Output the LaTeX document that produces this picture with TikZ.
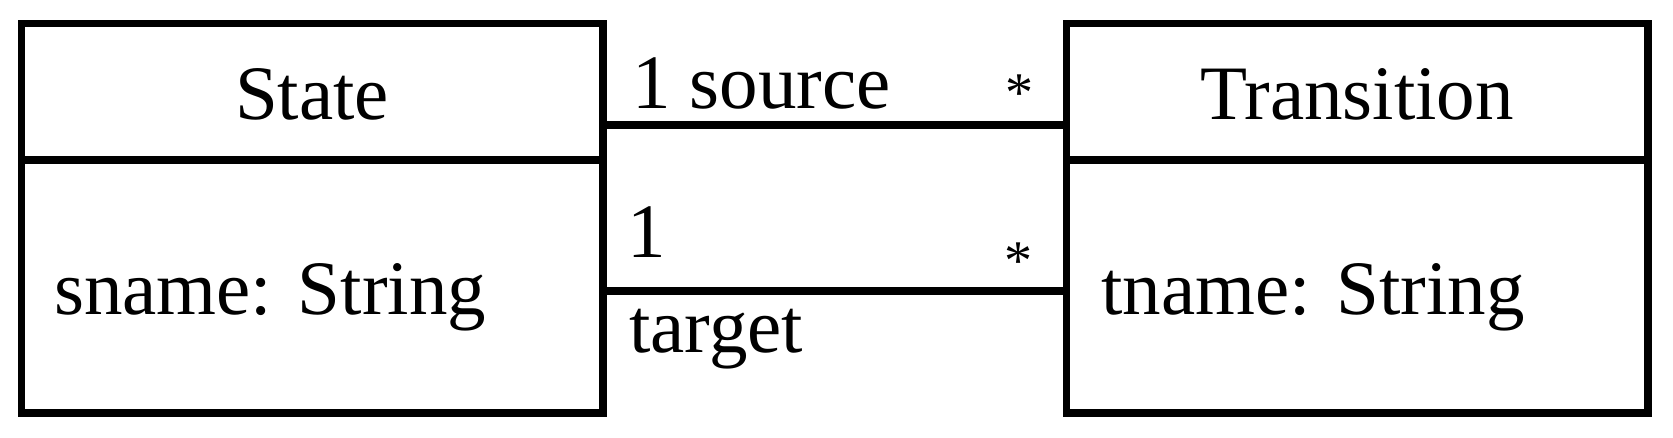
\documentclass[tikz,border=0pt]{standalone}
\usepackage{fontspec}
\setmainfont{Liberation Serif}
\begin{document}
\begin{tikzpicture}[x=1pt,y=-1pt,
  box/.style={draw,line width=7.5pt,inner sep=0pt,minimum width=581.5pt},
  big/.style={font=\fontsize{77}{90}\selectfont,inner sep=0pt},
  mult/.style={font=\fontsize{56}{66}\selectfont,inner sep=0pt,anchor=north},
  conn/.style={line width=7.5pt}]
\useasboundingbox (0,0) rectangle (1673,438);
% State class
\node[box,minimum height=136.3pt] (stateName) at (312.25,91.85) {};
\node[box,minimum height=253pt] (stateAttr) at (312.25,286.5) {};
% Transition class
\node[box,minimum height=136.3pt] (transName) at (1357,91.85) {};
\node[box,minimum height=253pt] (transAttr) at (1357,286.5) {};
% texts
\node[big,anchor=base] (stateT) at (312,120) {State};
\node[big,anchor=base west] (stateA) at (54,315) {sname: String};
\node[big,anchor=base] (transT) at (1357,120) {Transition};
\node[big,anchor=base west] (transA) at (1101,315) {tname: String};
% connectors
\draw[conn] ([yshift=-33.15pt]stateName.east) -- ([yshift=-33.15pt]transName.west);
\draw[conn] ([yshift=-4.5pt]stateAttr.east) -- ([yshift=-4.5pt]transAttr.west);
% multiplicities and roles
\node[big,anchor=base west] (srcL) at (632,109) {1 source};
\node[mult] (srcM) at (1019,75) {*};
\node[big,anchor=base west] (tgtN) at (627,258) {1};
\node[big,anchor=base west] (tgtL) at (629,352) {target};
\node[mult] (tgtM) at (1018,243) {*};
\end{tikzpicture}
\end{document}
